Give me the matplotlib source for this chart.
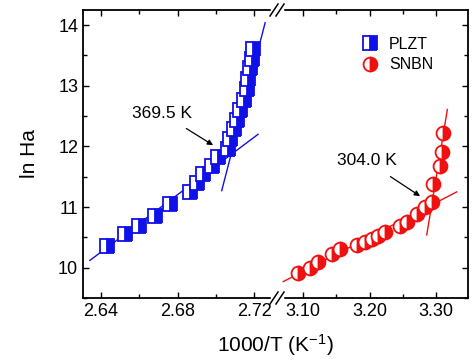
import numpy as np
import matplotlib
matplotlib.use('Agg')
import matplotlib.pyplot as plt
from matplotlib.lines import Line2D

plt.rcParams['font.family'] = ['Liberation Sans', 'DejaVu Sans']
plt.rcParams['mathtext.default'] = 'regular'

# PLZT data
plzt_x = [2.6431, 2.6526, 2.6599, 2.6682, 2.6761, 2.6865, 2.6902, 2.6933, 2.6980,
          2.7012, 2.7064, 2.7076, 2.7094, 2.7111, 2.7129, 2.7145, 2.7163, 2.7171,
          2.7180, 2.7188, 2.7197]
plzt_y = [10.36, 10.56, 10.68, 10.85, 11.05, 11.25, 11.40, 11.54, 11.68,
          11.82, 11.96, 12.12, 12.28, 12.44, 12.60, 12.77, 12.95, 13.12,
          13.29, 13.45, 13.60]

# SNBN data
snbn_x = [3.0929, 3.1105, 3.1230, 3.1432, 3.1556, 3.1808, 3.1932, 3.2033, 3.2132,
          3.2233, 3.2459, 3.2559, 3.2710, 3.2835, 3.2935, 3.2959, 3.3060, 3.3086,
          3.3110]
snbn_y = [9.92, 10.00, 10.10, 10.23, 10.30, 10.38, 10.43, 10.48, 10.52,
          10.59, 10.68, 10.75, 10.89, 11.00, 11.08, 11.38, 11.68, 11.90,
          12.22]

# fit lines (end points)
plzt_fit1_x = [2.6342, 2.7221]
plzt_fit1_y = [10.12, 12.20]
plzt_fit2_x = [2.7031, 2.7258]
plzt_fit2_y = [11.27, 14.04]
snbn_fit1_x = [3.0704, 3.3311]
snbn_fit1_y = [9.77, 11.25]
snbn_fit2_x = [3.2860, 3.3170]
snbn_fit2_y = [10.54, 12.61]

W, H = 474, 364
fig = plt.figure(figsize=(W / 100, H / 100), dpi=100)

def fx(px):
    return px / W

def fy(py):
    return 1 - py / H

left, right, top, bottom, brk = 83, 468, 10, 298, 277
ax1 = fig.add_axes([fx(left), fy(bottom), fx(brk) - fx(left), fy(top) - fy(bottom)])
ax2 = fig.add_axes([fx(brk), fy(bottom), fx(right) - fx(brk), fy(top) - fy(bottom)])

blue = '#1010e8'
red = '#f01010'

ax1.plot(plzt_fit1_x, plzt_fit1_y, color=blue, lw=1)
ax1.plot(plzt_fit2_x, plzt_fit2_y, color=blue, lw=1)
ax1.plot(plzt_x, plzt_y, 's', ms=9.5, mew=1.3, color=blue, mec=blue,
         fillstyle='right', markerfacecoloralt='white', ls='none')

ax2.plot(snbn_fit1_x, snbn_fit1_y, color=red, lw=1)
ax2.plot(snbn_fit2_x, snbn_fit2_y, color=red, lw=1)
ax2.plot(snbn_x, snbn_y, 'o', ms=10, mew=1.3, color=red, mec=red,
         fillstyle='right', markerfacecoloralt='white', ls='none')

ax1.set_xlim(2.6306, 2.7320)
ax2.set_xlim(3.061, 3.348)
for ax in (ax1, ax2):
    ax.set_ylim(9.525, 14.25)
    ax.set_yticks([10, 11, 12, 13, 14])
    ax.set_yticks(np.arange(9.5, 14.3, 0.5), minor=True)
    ax.tick_params(which='both', direction='in', top=True, labelsize=13, width=1)
    ax.tick_params(which='major', length=4.5)
    ax.tick_params(which='minor', length=3)
    for s in ax.spines.values():
        s.set_linewidth(1.3)

ax1.set_xticks([2.64, 2.68, 2.72])
ax1.set_xticklabels(['2.64', '2.68', '2.72'])
ax1.set_xticks([2.66, 2.70], minor=True)
ax1.spines['right'].set_visible(False)
ax1.tick_params(which='both', right=False)

ax2.set_xticks([3.10, 3.20, 3.30])
ax2.set_xticklabels(['3.10', '3.20', '3.30'])
ax2.set_xticks([3.15, 3.25], minor=True)
ax2.spines['left'].set_visible(False)
ax2.tick_params(which='both', left=False, labelleft=False, right=True)

ax1.set_ylabel('ln Ha', fontsize=15)
ax1.yaxis.set_label_coords((39 - left) / (brk - left), 0.5)
fig.text(fx(275), fy(345), '1000/T (K$^{-1}$)', fontsize=15, ha='center', va='center')

ax1.annotate('369.5 K', xy=(2.6986, 12.02), xytext=(2.6717, 12.55),
             fontsize=12.5, ha='center', va='center',
             arrowprops=dict(arrowstyle='-|>', color='black', lw=0.9,
                             mutation_scale=8, shrinkA=7, shrinkB=0))
ax2.annotate('304.0 K', xy=(3.276, 11.18), xytext=(3.1958, 11.76),
             fontsize=12.5, ha='center', va='center',
             arrowprops=dict(arrowstyle='-|>', color='black', lw=0.9,
                             mutation_scale=8, shrinkA=7, shrinkB=0))

handles = [Line2D([], [], marker='s', ms=9.5, mew=1.3, color=blue, mec=blue, ls='none',
                  fillstyle='right', markerfacecoloralt='white'),
           Line2D([], [], marker='o', ms=10, mew=1.3, color=red, mec=red, ls='none',
                  fillstyle='right', markerfacecoloralt='white')]
ax2.legend(handles, ['PLZT', 'SNBN'], loc='upper left', bbox_to_anchor=(0.41, 0.93),
           frameon=False, fontsize=11.5, handlelength=1.0, handletextpad=0.7,
           labelspacing=0.35, borderaxespad=0)

# break marks
for yb in (top, bottom):
    fig.add_artist(Line2D([fx(brk - 5), fx(brk + 5)], [fy(yb), fy(yb)],
                          color='white', lw=2.5))
    for dx in (-3, 3):
        fig.add_artist(Line2D([fx(brk + dx - 4), fx(brk + dx + 4)],
                              [fy(yb + 6), fy(yb - 6)], color='black', lw=1.1))

fig.savefig('out.png', dpi=100)
